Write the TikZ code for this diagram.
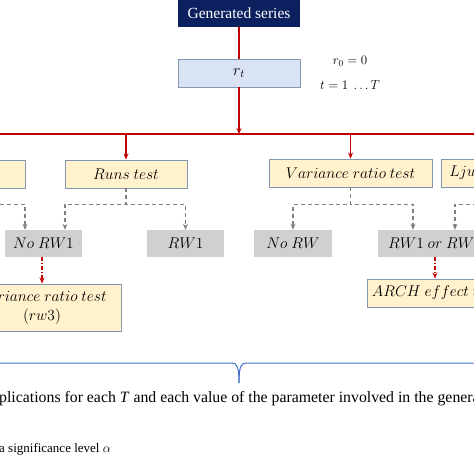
\RequirePackage{fix-cm}
\documentclass[tikz,border=0pt]{standalone}
\usepackage[no-math]{fontspec}
\setmainfont{Liberation Serif}
\usepackage{amsmath}
\usetikzlibrary{calc,positioning,arrows.meta}
\tikzset{>={Stealth[length=6pt,width=5pt]}}
\definecolor{navy}{HTML}{0C1F5E}
\definecolor{lightblue}{HTML}{DAE3F3}
\definecolor{cream}{HTML}{FFF2CC}
\definecolor{boxedge}{HTML}{8497B0}
\definecolor{darkred}{HTML}{C00000}
\definecolor{boxgray}{HTML}{D0D0D0}
\definecolor{bracecol}{HTML}{4472C4}

\begin{document}
\begin{tikzpicture}[x=1pt,y=-1pt,
    testbox/.style={draw=boxedge,fill=cream,line width=0.9pt,minimum height=28pt,inner sep=2pt,font=\fontsize{15.5}{19}\selectfont},
    resbox/.style={fill=boxgray,minimum height=27pt,inner sep=2pt,font=\fontsize{15.5}{19}\selectfont},
    redline/.style={darkred,line width=1.3pt},
    redarrow/.style={redline,->},
    grayarrow/.style={gray,line width=1.1pt,dash pattern=on 4pt off 3pt,->},
    dasharrow/.style={darkred,line width=1.1pt,dash pattern=on 4pt off 2pt on 1pt off 2pt,->}]

          \useasboundingbox (0,0) rectangle (474,474);
          \clip (0,0) rectangle (474,474);

          % top of the chart
          \node[fill=navy,text=white,minimum width=122pt,minimum height=28pt,font=\fontsize{15.5}{17}\selectfont] (gen) at (239,13) {Generated series};
          \node[fill=lightblue,draw=boxedge,line width=0.9pt,minimum width=122pt,minimum height=28pt,font=\fontsize{16}{17}\selectfont] (rt) at (239,73) {$r_t$};
          \node[font=\fontsize{13}{15}\selectfont] (rzero) at (350,61) {$r_0 = 0$};
          \node[font=\fontsize{13}{15}\selectfont] (trange) at (350,85) {$t = 1\ \ldots T$};

          \draw[redline] (gen) -- (rt);

          % red bus to the tests
          \coordinate (busL) at (0,134);
          \coordinate (busR) at (474,134);
          \draw[redline] (busL) -- (busR);
          \draw[redarrow] (rt) -- (rt |- busL);

          % the tests
          \node[testbox,minimum width=130pt] (lefttest) at (-40,174) {};
          \node[testbox,minimum width=122pt] (runs) at (126,174) {$Runs\ test$};
          \node[testbox,minimum width=163pt] (vrt) at (350.5,173) {$Variance\ ratio\ test$};
          \node[testbox,minimum width=122pt] (ljung) at (502,173) {$Ljung\text{-}Box\ test$};

          \draw[redarrow] (runs.north |- busL) -- (runs);
          \draw[redarrow] (vrt.north |- busL) -- (vrt);

          % outcomes
          \node[resbox,minimum width=77pt] (norwone) at (43.5,243.5) {$No\ RW1$};
          \node[resbox,minimum width=77pt] (rwone) at (185.5,243.5) {$RW1$};
          \node[resbox,minimum width=78pt] (norw) at (293,243.5) {$No\ RW$};
          \node[resbox,minimum width=114pt] (rwonethree) at (435,243.5) {$RW1\ or\ RW3$};

          % dashed gray branches
          \draw[grayarrow] (lefttest.south) -- ++(0,16) -| ([xshift=-18.5pt]norwone.north);
          \draw[grayarrow] (runs.south) -- ++(0,16) -| ([xshift=21.5pt]norwone.north);
          \draw[grayarrow] (runs.south) -- ++(0,16) -| (rwone.north);
          \draw[grayarrow] (vrt.south) -- ++(0,17) -| (norw.north);
          \draw[grayarrow] (vrt.south) -- ++(0,17) -| ([xshift=-22pt]rwonethree.north);
          \draw[grayarrow] (ljung.south) -- ++(0,17) -| ([xshift=20pt]rwonethree.north);

          % follow-up tests
          \node[testbox,minimum width=158pt,minimum height=47pt,align=center] (vrtthree) at (42,307.5) {$Variance\ ratio\ test$\\$(rw3)$};
          \node[testbox,minimum width=136pt] (arch) at (435,293) {$ARCH\ effect\ test$};

          \draw[dasharrow] (norwone.south -| vrtthree.north) -- (vrtthree);
          \draw[dasharrow] (rwonethree) -- (arch);

          % blue brace
          \draw[bracecol,line width=1pt] (0,363) -- (232,363) .. controls (237,363) and (239,367) .. (239,383);
          \draw[bracecol,line width=1pt] (474,363) -- (246,363) .. controls (241,363) and (239,367) .. (239,383);

          % notes below
          \node[anchor=base west,inner sep=0pt,font=\fontsize{15.8}{17}\selectfont] (reps) at (-1,402) {\llap{Re}plications for each \textit{T} and each value of the parameter involved in the generation};
          \node[anchor=base west,inner sep=0pt,font=\fontsize{13}{15}\selectfont] (siglevel) at (-1,452) {\llap{at }a significance level $\alpha$};

\end{tikzpicture}
\end{document}
